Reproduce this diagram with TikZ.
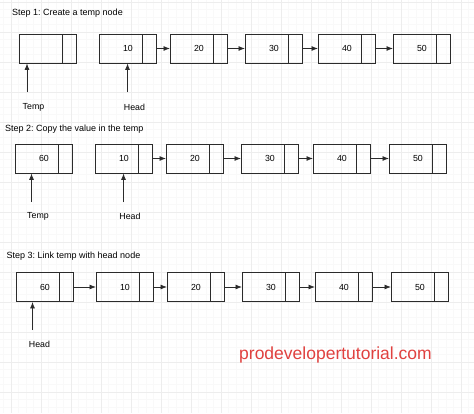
\documentclass[tikz,border=0pt]{standalone}
\usepackage{fontspec}
\setmainfont{Liberation Sans}
\usetikzlibrary{arrows.meta}
\frenchspacing

\definecolor{inkgray}{HTML}{2B2B2B}
\definecolor{markred}{HTML}{E0413F}

\tikzset{
  cell/.style={draw=inkgray, line width=0.8pt, minimum width=57pt, minimum height=29pt,
    inner sep=0pt, anchor=west, font=\fontsize{8.8}{10}\selectfont,
    path picture={\draw[inkgray, line width=0.8pt]
      ([xshift=-14pt]path picture bounding box.north east) --
      ([xshift=-14pt]path picture bounding box.south east);}},
  link/.style={inkgray, line width=0.8pt, -{Latex[length=6.5pt,width=5pt]}},
  steptitle/.style={anchor=west, inner sep=0pt, font=\fontsize{9}{11}\selectfont},
  ptrlabel/.style={inner sep=0pt, font=\fontsize{8.8}{10}\selectfont},
  gridminor/.style={black!2.5, line width=0.4pt},
  gridmajor/.style={black!7, line width=0.5pt}
}

\begin{document}
\begin{tikzpicture}[x=1pt,y=-1pt]
    \useasboundingbox (0,0) rectangle (474,413);

    % Background grid
    \foreach \gx in {3.5,11,...,474} \draw[gridminor] (\gx,0) -- (\gx,413);
    \foreach \gy in {2,9.5,...,413} \draw[gridminor] (0,\gy) -- (474,\gy);
    \foreach \gx in {11,41,...,474} \draw[gridmajor] (\gx,0) -- (\gx,413);
    \foreach \gy in {2,32,...,413} \draw[gridmajor] (0,\gy) -- (474,\gy);

    % Step 1
    \node[steptitle] (title1) at (12,13) {Step 1: Create a temp node};
    \node[cell] (tmpA) at (19,48.5) {};
    \foreach \x/\v [count=\i] in {99/10,170/20,245/30,318/40,393/50}
        \node[cell] (a\i) at (\x,48.5) {\v};
    \foreach \i/\j in {1/2,2/3,3/4,4/5}
        \draw[link] (a\i) -- (a\j);
    \coordinate (tmpAptr) at (27,92);
    \coordinate (headAptr) at (127.5,92);
    \draw[link] (tmpAptr) -- (tmpAptr |- tmpA.south);
    \draw[link] (headAptr) -- (headAptr |- a1.south);
    \node[ptrlabel] (tmpAlbl) at (33.5,107) {Temp};
    \node[ptrlabel] (headAlbl) at (134.5,107) {Head};

    % Step 2
    \node[steptitle] (title2) at (5,129) {Step 2: Copy the value in the temp};
    \node[cell] (tmpB) at (15,158.5) {60};
    \foreach \x/\v [count=\i] in {95/10,166/20,241/30,313/40,389/50}
        \node[cell] (b\i) at (\x,158.5) {\v};
    \foreach \i/\j in {1/2,2/3,3/4,4/5}
        \draw[link] (b\i) -- (b\j);
    \coordinate (tmpBptr) at (31.5,202);
    \coordinate (headBptr) at (123.5,202);
    \draw[link] (tmpBptr) -- (tmpBptr |- tmpB.south);
    \draw[link] (headBptr) -- (headBptr |- b1.south);
    \node[ptrlabel] (tmpBlbl) at (38,216) {Temp};
    \node[ptrlabel] (headBlbl) at (130,216) {Head};

    % Step 3
    \node[steptitle] (title3) at (6.5,256) {Step 3: Link temp with head node};
    \foreach \x/\v [count=\i] in {16/60,96/10,167/20,242/30,315/40,391/50}
        \node[cell] (c\i) at (\x,287) {\v};
    \foreach \i/\j in {1/2,2/3,3/4,4/5,5/6}
        \draw[link] (c\i) -- (c\j);
    \coordinate (headCptr) at (32.5,330);
    \draw[link] (headCptr) -- (headCptr |- c1.south);
    \node[ptrlabel] (headClbl) at (39.5,344) {Head};

    % Watermark
    \node[markred, inner sep=0pt, font=\fontsize{17.5}{20}\selectfont] (site) at (335.5,355) {prodevelopertutorial.com};
\end{tikzpicture}
\end{document}
